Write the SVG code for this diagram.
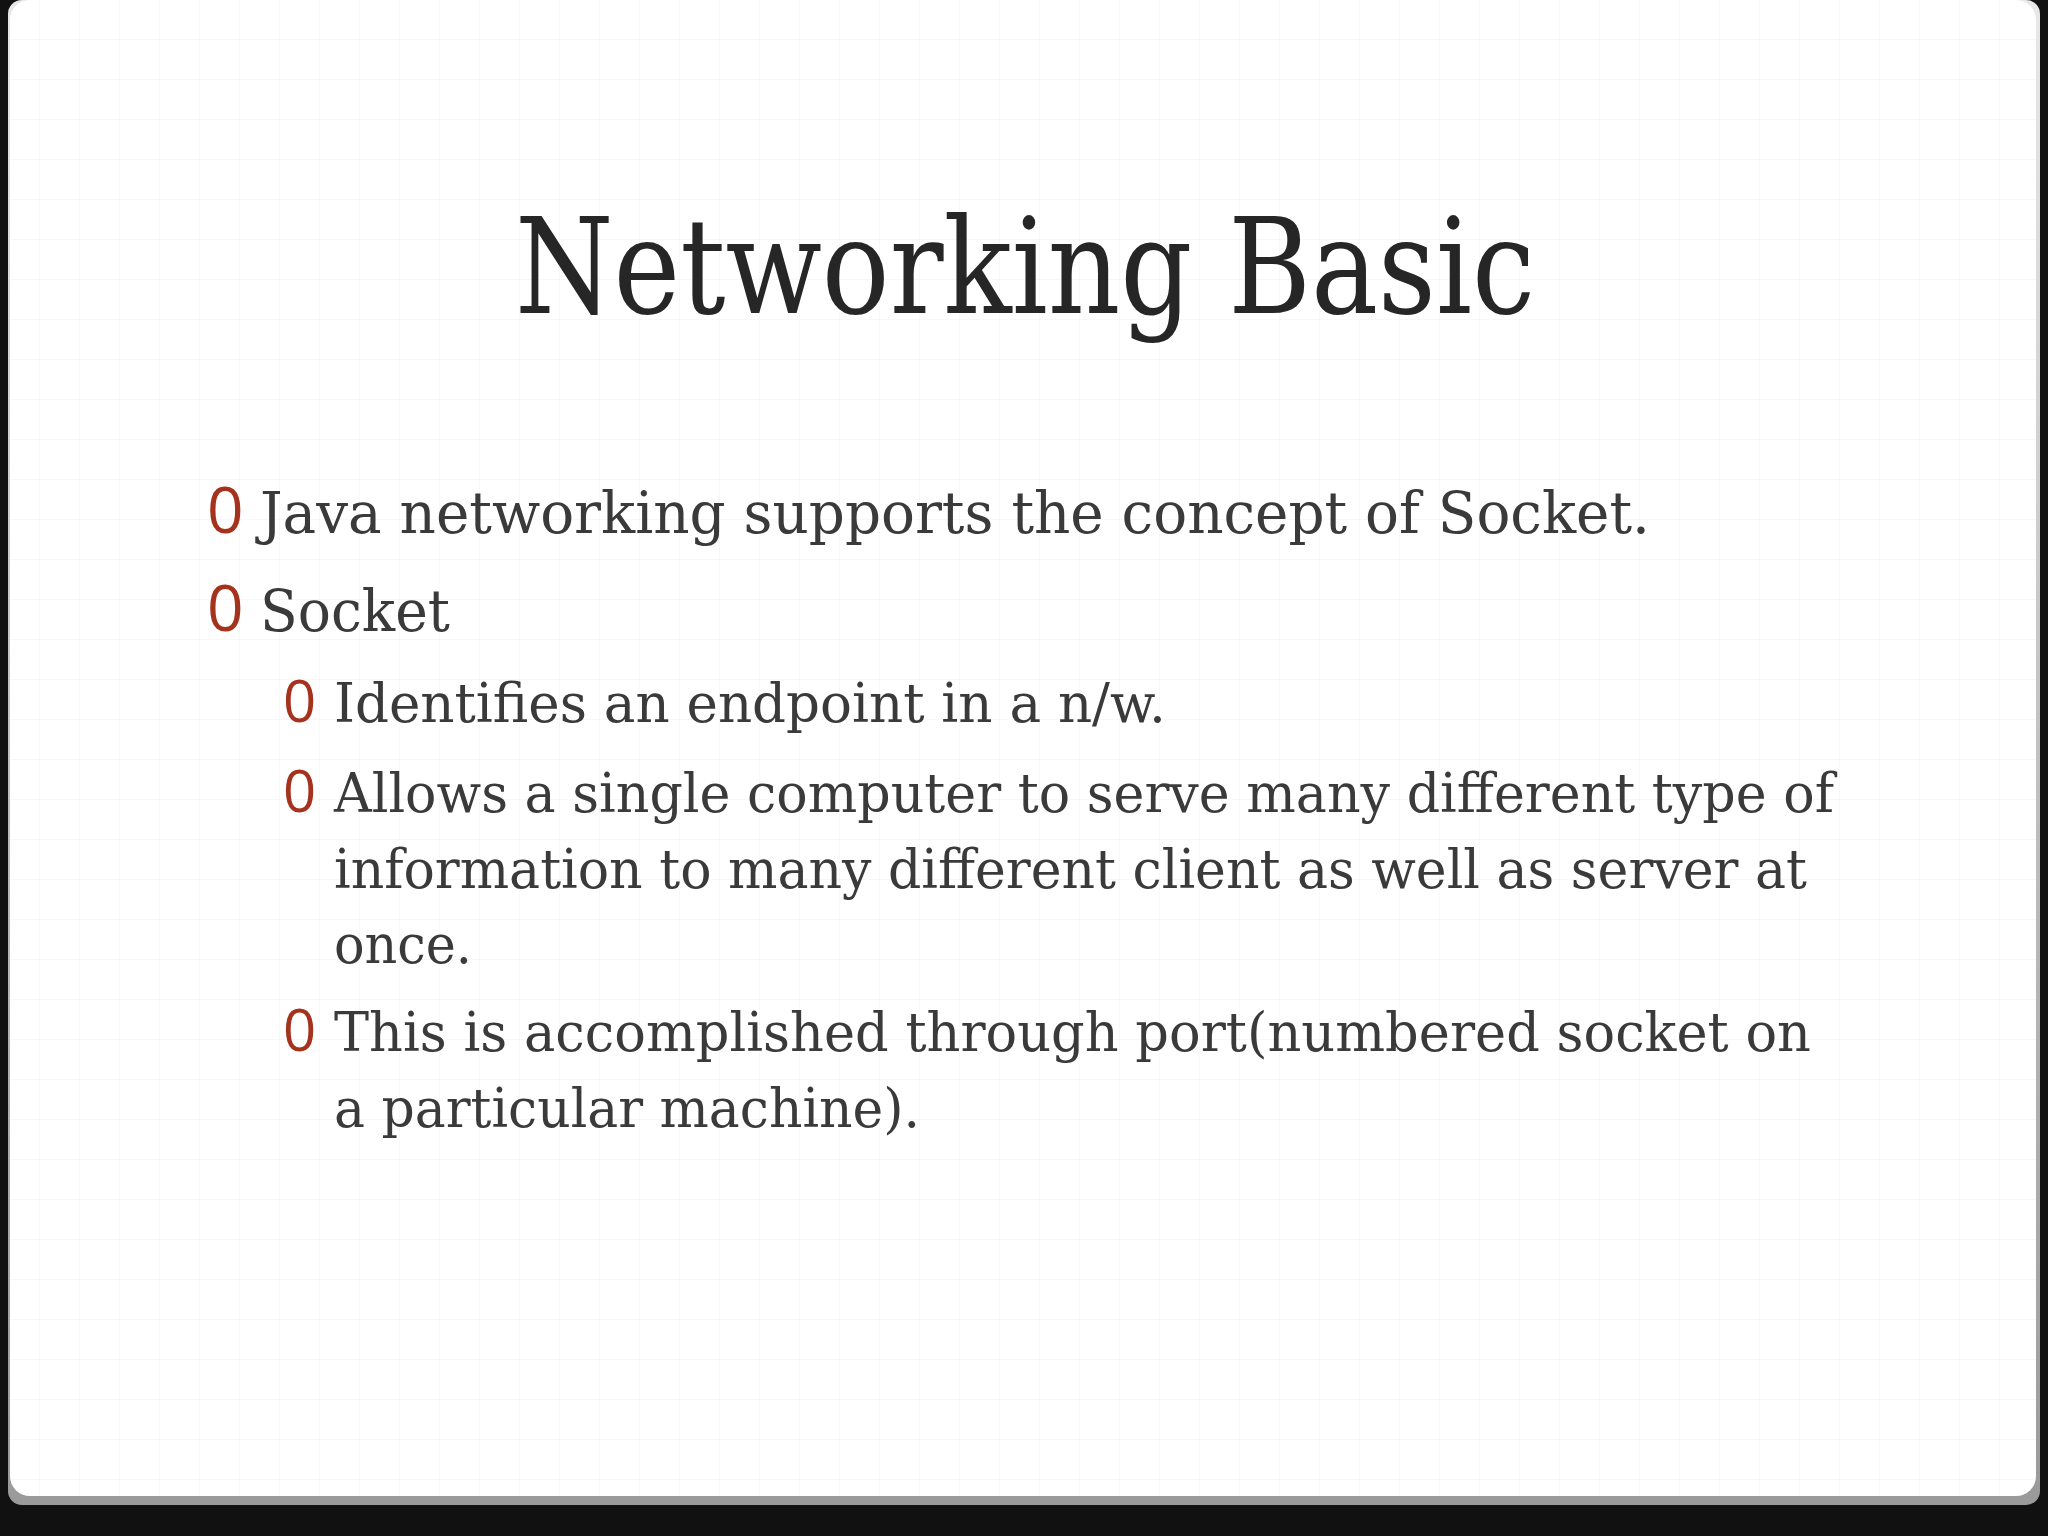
<svg xmlns="http://www.w3.org/2000/svg" width="2048" height="1536" viewBox="0 0 2048 1536">
<defs>
<pattern id="grid" width="40" height="40" patternUnits="userSpaceOnUse"><path d="M40 0V40H0" fill="none" stroke="#f0f0f0" stroke-width="1"/></pattern>
<linearGradient id="bot" x1="0" y1="0" x2="0" y2="1"><stop offset="0" stop-color="#e8e8e8"/><stop offset="1" stop-color="#9a9a9a"/></linearGradient>
</defs>
<style>
.t{font-family:"DejaVu Serif",serif;fill:#3a3a3a}
.b{font-family:"Open Sans","Liberation Sans",sans-serif;fill:#a5321c}
</style>
<rect width="2048" height="1536" fill="#111"/>
<rect x="8" y="0" width="2032" height="1505" rx="14" fill="url(#bot)"/>
<rect x="10" y="0" width="2026" height="1496" rx="20" fill="#fff"/>
<rect x="10" y="0" width="2026" height="1496" rx="20" fill="url(#grid)"/>
<text class="t" x="515" y="313" font-size="132" style="fill:#262626" textLength="1020" lengthAdjust="spacingAndGlyphs">Networking Basic</text>
<g font-size="57">
<text class="b" x="207" y="533" font-size="64">0</text><text class="t" x="260" y="533" textLength="1390" lengthAdjust="spacingAndGlyphs">Java networking supports the concept of Socket.</text>
<text class="b" x="207" y="631" font-size="64">0</text><text class="t" x="260" y="631" textLength="190" lengthAdjust="spacingAndGlyphs">Socket</text>
</g>
<g font-size="54">
<text class="b" x="283" y="722" font-size="58">0</text><text class="t" x="334" y="722" textLength="832" lengthAdjust="spacingAndGlyphs">Identifies an endpoint in a n/w.</text>
<text class="b" x="283" y="812" font-size="58">0</text><text class="t" x="334" y="812" textLength="1500" lengthAdjust="spacingAndGlyphs">Allows a single computer to serve many different type of</text>
<text class="t" x="334" y="888" textLength="1473" lengthAdjust="spacingAndGlyphs">information to many different client as well as server at</text>
<text class="t" x="334" y="963" textLength="138" lengthAdjust="spacingAndGlyphs">once.</text>
<text class="b" x="283" y="1051" font-size="58">0</text><text class="t" x="334" y="1051" textLength="1477" lengthAdjust="spacingAndGlyphs">This is accomplished through port(numbered socket on</text>
<text class="t" x="334" y="1127" textLength="586" lengthAdjust="spacingAndGlyphs">a particular machine).</text>
</g>
</svg>
